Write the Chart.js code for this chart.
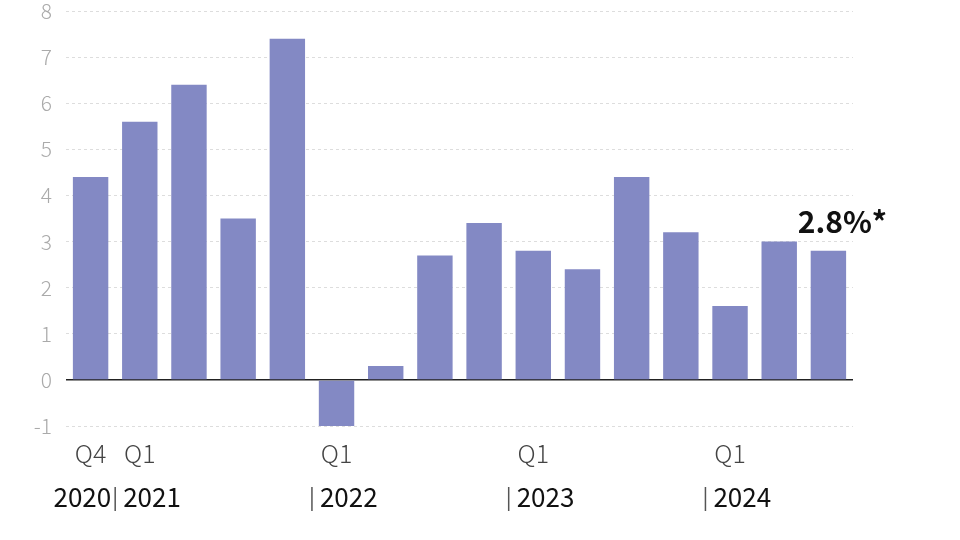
<!DOCTYPE html>
<html>
<head>
<meta charset="utf-8">
<script src="https://cdn.jsdelivr.net/npm/chart.js"></script>
<style>
  html, body { margin: 0; padding: 0; background: #fff; }
  #wrap { width: 960px; height: 540px; position: relative; }
</style>
</head>
<body>
<div id="wrap"><canvas id="chart"></canvas></div>
<script>
// quarterly growth, Q4 2020 .. Q3 2024
const quarters = ['Q4', 'Q1', 'Q2', 'Q3', 'Q4', 'Q1', 'Q2', 'Q3', 'Q4', 'Q1', 'Q2', 'Q3', 'Q4', 'Q1', 'Q2', 'Q3'];
const values = [4.4, 5.6, 6.4, 3.5, 7.4, -1.0, 0.3, 2.7, 3.4, 2.8, 2.4, 4.4, 3.2, 1.6, 3.0, 2.8];
const shownQuarters = [0, 1, 5, 9, 13]; // which quarter labels are printed
const yearLabels = [
  { text: '2020', at: 0, side: 'left' },
  { text: '2021', at: 1, side: 'right' },
  { text: '2022', at: 5, side: 'right' },
  { text: '2023', at: 9, side: 'right' },
  { text: '2024', at: 13, side: 'right' }
];
const lastLabel = '2.8%*';

const FONT = '"Noto Sans CJK SC", "Noto Sans", sans-serif';
const BAR = '#8389c4';

// draws quarter labels, year labels with separators and the last value note
const labelsPlugin = {
  id: 'labels',
  afterDraw(chart) {
    const ctx = chart.ctx;
    const x = chart.scales.x;
    const y = chart.scales.y;
    const half = (x.getPixelForValue(1) - x.getPixelForValue(0)) / 2;
    ctx.save();

    ctx.font = '300 25px ' + FONT;
    ctx.fillStyle = '#444';
    ctx.textAlign = 'center';
    ctx.textBaseline = 'middle';
    shownQuarters.forEach(i => {
      ctx.fillText(quarters[i], x.getPixelForValue(i), 453);
    });

    ctx.font = '400 26px ' + FONT;
    ctx.fillStyle = '#111';
    yearLabels.forEach(yl => {
      const edge = x.getPixelForValue(yl.at) - half;
      if (yl.side === 'left') {
        ctx.textAlign = 'right';
        ctx.fillText(yl.text, x.getPixelForValue(yl.at) + half - 4, 497);
      } else {
        ctx.textAlign = 'left';
        ctx.fillText(yl.text, edge + 8, 497);
        ctx.strokeStyle = '#555';
        ctx.lineWidth = 1.5;
        ctx.beginPath();
        ctx.moveTo(edge, 487);
        ctx.lineTo(edge, 511);
        ctx.stroke();
      }
    });

    const last = values.length - 1;
    ctx.font = 'bold 30px ' + FONT;
    ctx.fillStyle = '#111';
    ctx.textAlign = 'center';
    ctx.textBaseline = 'alphabetic';
    ctx.fillText(lastLabel, x.getPixelForValue(last) + 14, y.getPixelForValue(values[last]) - 18);
    ctx.restore();
  }
};

new Chart(document.getElementById('chart'), {
  type: 'bar',
  data: {
    labels: quarters,
    datasets: [{
      data: values,
      backgroundColor: BAR,
      categoryPercentage: 1,
      barPercentage: 0.72
    }]
  },
  options: {
    responsive: true,
    maintainAspectRatio: false,
    animation: false,
    layout: { padding: { top: 11, right: 107, bottom: 114, left: 0 } },
    plugins: { legend: { display: false }, tooltip: { enabled: false } },
    scales: {
      x: { display: false },
      y: {
        min: -1,
        max: 8,
        afterFit: s => {
          s.width = 66;
          s.paddingTop = 0;
          s.paddingBottom = 0;
        },
        ticks: {
          stepSize: 1,
          padding: 14,
          color: '#aaa',
          font: { family: FONT, size: 21, weight: '300' }
        },
        grid: {
          drawTicks: false,
          color: c => c.tick && c.tick.value === 0 ? '#222' : '#ddd',
          lineWidth: c => c.tick && c.tick.value === 0 ? 1.5 : 1
        },
        border: {
          display: false,
          dash: c => c.tick && c.tick.value === 0 ? [] : [3, 3]
        }
      }
    }
  },
  plugins: [labelsPlugin]
});
</script>
</body>
</html>
